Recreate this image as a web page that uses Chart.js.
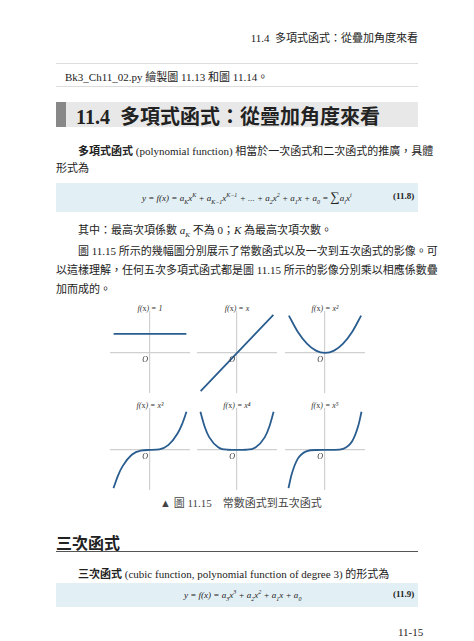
<!DOCTYPE html>
<html>
<head>
<meta charset="utf-8">
<script src="https://cdn.jsdelivr.net/npm/chart.js@4.4.0/dist/chart.umd.min.js"></script>
<style>
body { margin:0; width:474px; height:641px; background:#fff; position:relative; overflow:hidden;
  font-family:"Liberation Serif","Noto Sans CJK TC",serif; color:#222; }
.a { position:absolute; white-space:nowrap; }
.t { font-size:11px; }
.box { position:absolute; left:56px; width:362px; background:#e2eff4; }
.eq { font-size:9px; font-style:italic; line-height:12px; }
.eq sub, .eq sup { font-size:6px; line-height:0; }
.plot { position:absolute; width:80px; height:82px; }
.ttl { position:absolute; font-size:8px; color:#333; width:80px; text-align:center; }
</style>
</head>
<body>
<div class="a" style="right:56px;top:29px;font-size:11px;">11.4&nbsp; 多項式函式：從疊加角度來看</div>
<div class="a" style="left:56px;top:63px;width:362px;border-top:1px solid #ddd;"></div>
<div class="a" style="left:56px;top:86px;width:362px;border-top:1px solid #ddd;"></div>
<div class="a" style="left:65px;top:68px;font-size:11px;">Bk3_Ch11_02.py 繪製圖 11.13 和圖 11.14。</div>

<div class="a" style="left:56px;top:102px;width:362px;height:25px;background:#e8e8e8;"></div>
<div class="a" style="left:56px;top:102px;width:10px;height:25px;background:#888;"></div>
<div class="a" style="left:76px;top:101px;font-size:20px;font-weight:bold;">11.4&nbsp; 多項式函式：從疊加角度來看</div>

<div class="a t" style="left:78px;top:142px;"><b>多項式函式</b> (polynomial function) 相當於一次函式和二次函式的推廣，具體</div>
<div class="a t" style="left:56px;top:159px;">形式為</div>
<div class="box" style="top:183px;height:29px;"></div>
<div class="a eq" style="left:142px;top:191px;">y = f(x) = a<sub>K</sub>x<sup>K</sup> + a<sub>K−1</sub>x<sup>K−1</sup> + ... + a<sub>2</sub>x<sup>2</sup> + a<sub>1</sub>x + a<sub>0</sub> = <span style="font-size:13px;font-style:normal">∑</span>a<sub>i</sub>x<sup>i</sup></div>
<div class="a" style="left:393px;top:191px;font-size:9px;font-weight:bold;">(11.8)</div>
<div class="a t" style="left:78px;top:221px;">其中：最高次項係數 <i>a<sub style="font-size:7px;line-height:0">K</sub></i> 不為 0；<i>K</i> 為最高次項次數。</div>
<div class="a t" style="left:78px;top:242px;">圖 11.15 所示的幾幅圖分別展示了常數函式以及一次到五次函式的影像。可</div>
<div class="a t" style="left:56px;top:261px;">以這樣理解，任何五次多項式函式都是圖 11.15 所示的影像分別乘以相應係數疊</div>
<div class="a t" style="left:56px;top:280px;">加而成的。</div>

<div id="figs"></div>

<div class="a" style="left:160px;top:494px;font-size:11px;color:#444;">▲ 圖 11.15　常數函式到五次函式</div>
<div class="a" style="left:56px;top:530px;font-size:16px;font-weight:bold;">三次函式</div>
<div class="a" style="left:56px;top:551px;width:362px;border-top:1px solid #555;"></div>
<div class="a t" style="left:78px;top:565px;"><b>三次函式</b> (cubic function, polynomial function of degree 3) 的形式為</div>
<div class="box" style="top:583px;height:24px;"></div>
<div class="a eq" style="left:184px;top:589px;">y = f(x) = a<sub>3</sub>x<sup>3</sup> + a<sub>2</sub>x<sup>2</sup> + a<sub>1</sub>x + a<sub>0</sub></div>
<div class="a" style="left:393px;top:589px;font-size:9px;font-weight:bold;">(11.9)</div>
<div class="a" style="left:398px;top:626px;font-size:11px;">11-15</div>

<script>
var titles = ['f(x) = 1', 'f(x) = x', 'f(x) = x²', 'f(x) = x³', 'f(x) = x⁴', 'f(x) = x⁵'];
var xs0 = [-2, 2];
var ys0 = [1, 1];
var xs1 = [-2, 2];
var ys1 = [-2, 2];
var xs2 = [-1.4, -1.05, -0.7, -0.35, 0, 0.35, 0.7, 1.05, 1.4];
var ys2 = [1.96, 1.1, 0.49, 0.12, 0, 0.12, 0.49, 1.1, 1.96];
var xs3 = [-1.26, -1.1, -0.95, -0.63, -0.32, 0, 0.32, 0.63, 0.95, 1.1, 1.26];
var ys3 = [-2.0, -1.33, -0.86, -0.25, -0.03, 0, 0.03, 0.25, 0.86, 1.33, 2.0];
var xs4 = [-1.19, -1.05, -0.9, -0.6, -0.3, 0, 0.3, 0.6, 0.9, 1.05, 1.19];
var ys4 = [2.0, 1.22, 0.66, 0.13, 0.01, 0, 0.01, 0.13, 0.66, 1.22, 2.0];
var xs5 = [-1.15, -1.05, -0.86, -0.57, -0.29, 0, 0.29, 0.57, 0.86, 1.05, 1.15];
var ys5 = [-2.0, -1.28, -0.47, -0.06, -0.002, 0, 0.002, 0.06, 0.47, 1.28, 2.0];
var xLims = [2.2, 2.2, 1.55, 1.38, 1.3, 1.26];

var allX = [xs0, xs1, xs2, xs3, xs4, xs5];
var allY = [ys0, ys1, ys2, ys3, ys4, ys5];
var lefts = [110, 197, 285];
var tops = [307, 404];

var originLabel = {
    id: 'originLabel',
    afterDraw: function (chart) {
        var c = chart.ctx;
        var px = chart.scales.x.getPixelForValue(0);
        var py = chart.scales.y.getPixelForValue(0);
        c.save();
        c.font = 'italic 8px "Liberation Serif"';
        c.fillStyle = '#333';
        c.textAlign = 'right';
        c.textBaseline = 'top';
        c.fillText('O', px - 2, py + 3);
        c.restore();
    }
};

var figs = document.getElementById('figs');
for (var i = 0; i < 6; i++) {
    var l = lefts[i % 3], t = tops[Math.floor(i / 3)];
    var tt = document.createElement('div');
    tt.className = 'ttl';
    tt.style.left = l + 'px';
    tt.style.top = (t - 3) + 'px';
    tt.innerHTML = '<i>' + titles[i].replace('(x)', '(</i>x<i>)') + '</i>';
    figs.appendChild(tt);
    var d = document.createElement('div');
    d.className = 'plot';
    d.style.left = l + 'px';
    d.style.top = (t + 4) + 'px';
    var cv = document.createElement('canvas');
    d.appendChild(cv);
    figs.appendChild(d);

    var pts = allX[i].map(function (x, k) { return { x: x, y: allY[i][k] }; });
    var zeroAxis = {
        display: true,
        afterBuildTicks: function (s) { s.ticks = [{ value: 0 }]; },
        ticks: { display: false },
        border: { display: false },
        grid: { color: '#d0d0d0', lineWidth: 1.2, drawTicks: false }
    };
    new Chart(cv.getContext('2d'), {
        type: 'scatter',
        data: {
            datasets: [{
                data: pts,
                showLine: true,
                borderColor: '#2a5d8f',
                borderWidth: 1.8,
                pointRadius: 0,
                cubicInterpolationMode: 'monotone'
            }]
        },
        options: {
            responsive: true,
            maintainAspectRatio: false,
            animation: false,
            layout: { padding: 0 },
            plugins: { legend: { display: false }, tooltip: { enabled: false } },
            scales: {
                x: Object.assign({ min: -xLims[i], max: xLims[i] }, zeroAxis),
                y: Object.assign({ min: -2.1, max: 2.2 }, zeroAxis)
            }
        },
        plugins: [originLabel]
    });
}
</script>
</body>
</html>
